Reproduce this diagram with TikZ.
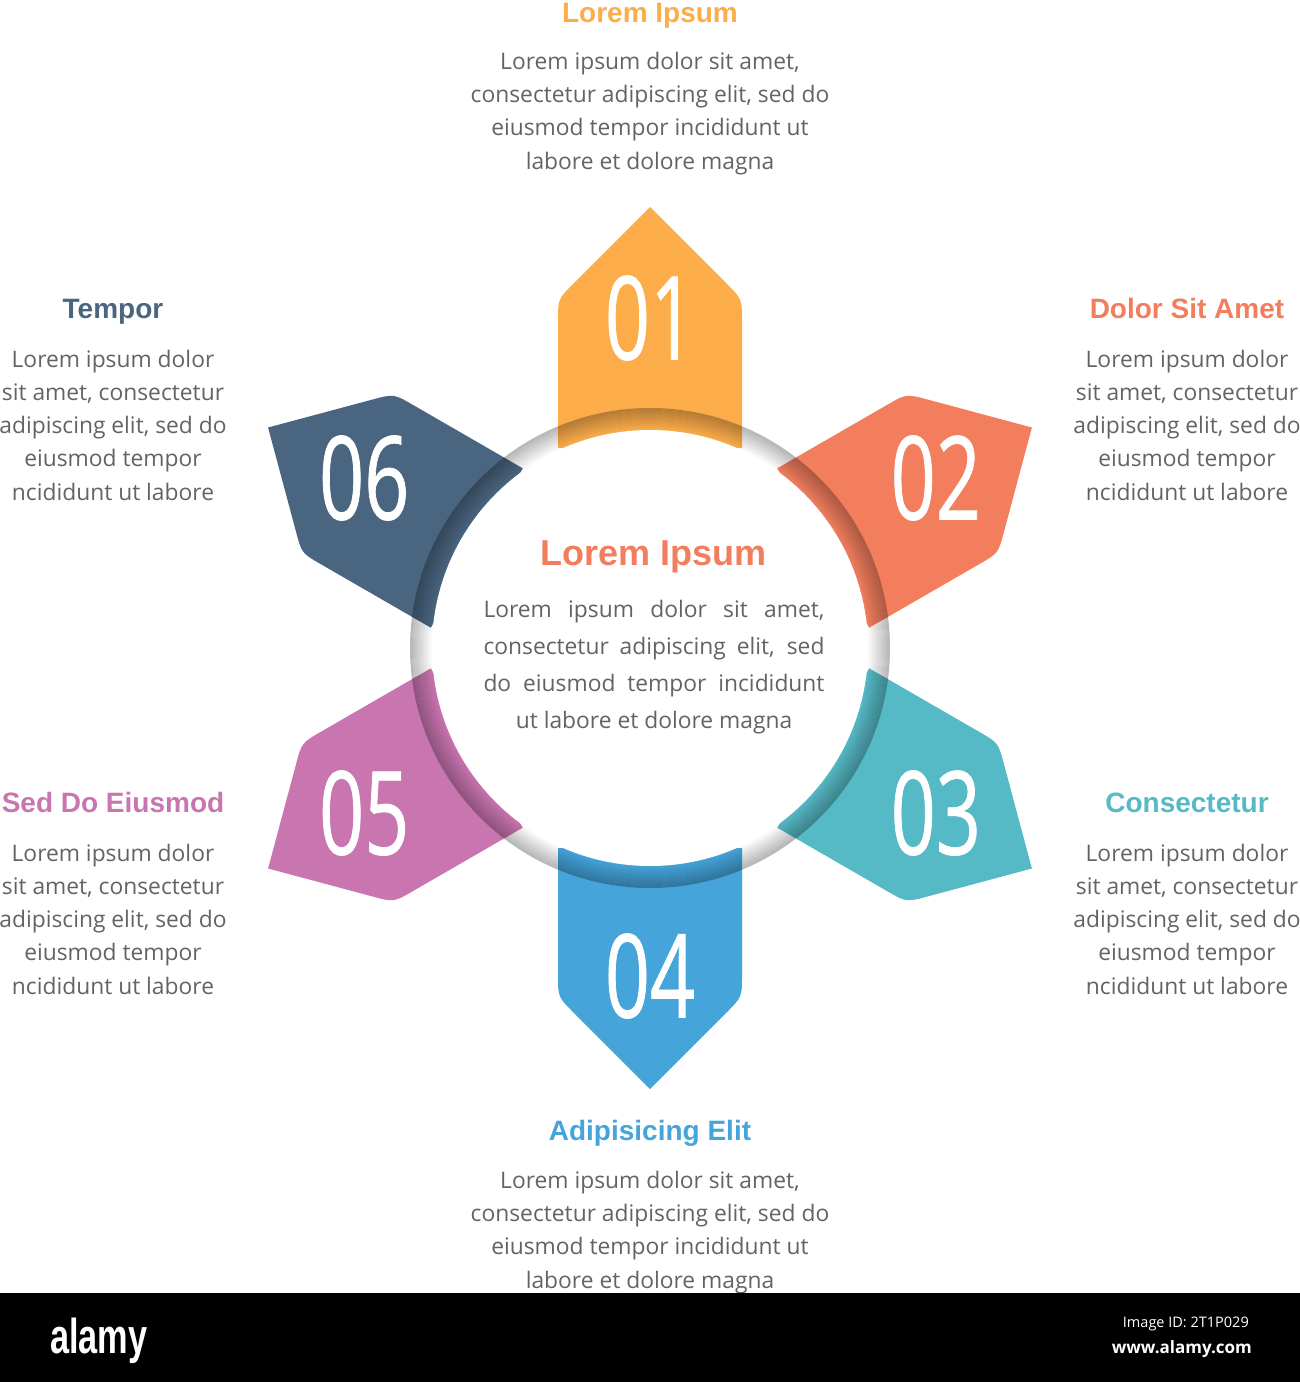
\documentclass[tikz,border=0pt]{standalone}
\usepackage{fontspec}
\setmainfont{Open Sans}
\newfontfamily\headfont{Liberation Sans}
\newfontfamily\numfont[FakeStretch=0.68,FakeBold=0.6]{Open Sans}
\newfontfamily\markfont[FakeStretch=0.7]{Liberation Sans}
\usetikzlibrary{positioning,calc}
\definecolor{cone}{HTML}{FCAD4A}
\definecolor{ctwo}{HTML}{F27E5E}
\definecolor{cthree}{HTML}{56BAC6}
\definecolor{cfour}{HTML}{45A4DA}
\definecolor{cfive}{HTML}{C975B0}
\definecolor{csix}{HTML}{4A6580}
\definecolor{textgray}{HTML}{636363}
\tikzset{
  body/.style={font=\fontsize{22.8}{33.2}\selectfont, text=textgray, align=center, inner sep=0pt, anchor=base},
  head/.style={font=\headfont\bfseries\fontsize{28}{30}\selectfont, inner sep=0pt, anchor=base},
  num/.style={font=\numfont\fontsize{116}{116}\selectfont, text=white, inner sep=0pt}}

\begin{document}
\begin{tikzpicture}[x=1pt,y=1pt]
    \useasboundingbox (0,0) rectangle (1300,-1382);
    \coordinate (ctr) at (650,-648);
    % petals
    \foreach \a/\c in {90/cone,30/ctwo,-30/cthree,-90/cfour,-150/cfive,150/csix}{
        \begin{scope}[shift={(ctr)},rotate=\a-90]
            \fill[\c] (-92,200) -- (-92,327) .. controls (-92,349) .. (-76.4,364.6) -- (0,441)
                -- (76.4,364.6) .. controls (92,349) .. (92,327) -- (92,200) -- cycle;
        \end{scope}
    }
    % ring
    \foreach \i in {0,...,10}{
        \fill[black,opacity={0.02+0.025*\i},even odd rule] (ctr) circle ({218+2*\i}) (ctr) circle ({220+2*\i});
    }
    \fill[white] (ctr) circle (218);
    % numbers
    \foreach \a/\n/\dy in {90/01/0,30/02/5,-30/03/0,-90/04/2,-150/05/0,150/06/5}{
        \node[num] (n\n) at ($(ctr)+(\a:330)+(0,\dy)$) {\n};
    }
    % center
    \node[head, text=ctwo, font=\headfont\bfseries\fontsize{36}{38}\selectfont] (tc) at (654,-565) {Lorem Ipsum};
    \node[body, font=\fontsize{22.8}{37}\selectfont] (bc) at (654,-728)
        {\makebox[341pt][s]{Lorem ipsum dolor sit amet,}\\
         \makebox[341pt][s]{consectetur adipiscing elit, sed}\\
         \makebox[341pt][s]{do eiusmod tempor incididunt}\\
         ut labore et dolore magna};
    % side texts
    \node[head, text=cone] (t1) at (650,-22) {Lorem Ipsum};
    \node[body] (b1) at (650,-169) {Lorem ipsum dolor sit amet,\\consectetur adipiscing elit, sed do\\eiusmod tempor incididunt ut\\labore et dolore magna};
    \node[head, text=ctwo] (t2) at (1187,-318) {Dolor Sit Amet};
    \node[body] (b2) at (1187,-500) {Lorem ipsum dolor\\sit amet, consectetur\\adipiscing elit, sed do\\eiusmod tempor\\ncididunt ut labore};
    \node[head, text=cthree] (t3) at (1187,-812) {Consectetur};
    \node[body] (b3) at (1187,-994) {Lorem ipsum dolor\\sit amet, consectetur\\adipiscing elit, sed do\\eiusmod tempor\\ncididunt ut labore};
    \node[head, text=cfour] (t4) at (650,-1140) {Adipisicing Elit};
    \node[body] (b4) at (650,-1288) {Lorem ipsum dolor sit amet,\\consectetur adipiscing elit, sed do\\eiusmod tempor incididunt ut\\labore et dolore magna};
    \node[head, text=cfive] (t5) at (113,-812) {Sed Do Eiusmod};
    \node[body] (b5) at (113,-994) {Lorem ipsum dolor\\sit amet, consectetur\\adipiscing elit, sed do\\eiusmod tempor\\ncididunt ut labore};
    \node[head, text=csix] (t6) at (113,-318) {Tempor};
    \node[body] (b6) at (113,-500) {Lorem ipsum dolor\\sit amet, consectetur\\adipiscing elit, sed do\\eiusmod tempor\\ncididunt ut labore};
    % watermark bar
    \fill[black] (0,-1293) rectangle (1300,-1382);
    \node[inner sep=0pt, anchor=base west, text=white, font=\markfont\bfseries\fontsize{49}{49}\selectfont] (logo) at (50,-1353) {alamy};
    \node[inner sep=0pt, anchor=base east, text=white, font=\fontsize{14.5}{15}\selectfont] (imgid) at (1249,-1327) {Image ID: 2T1P029};
    \node[inner sep=0pt, anchor=base east, text=white, font=\bfseries\fontsize{17}{18}\selectfont] (web) at (1252,-1353) {www.alamy.com};
\end{tikzpicture}
\end{document}
